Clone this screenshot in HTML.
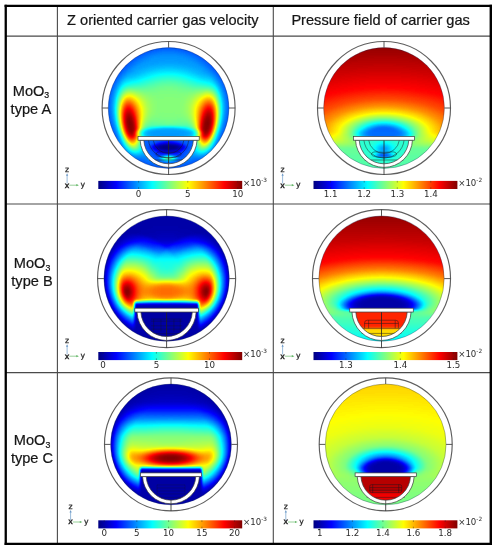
<!DOCTYPE html>
<html lang="en"><head><meta charset="utf-8"><title>Carrier gas simulation</title>
<style>html,body{margin:0;padding:0;background:#fff;width:496px;height:550px;overflow:hidden}svg{display:block}</style></head>
<body>
<svg width="496" height="550" viewBox="0 0 496 550">
<rect width="496" height="550" fill="#fff"/>
<defs>
<filter id="jet" x="-5%" y="-5%" width="110%" height="110%" color-interpolation-filters="sRGB"><feGaussianBlur stdDeviation="0.9"/><feComponentTransfer><feFuncR type="table" tableValues="0 0 0 0 .5 1 1 1 .5"/><feFuncG type="table" tableValues="0 0 .5 1 1 1 .5 0 0"/><feFuncB type="table" tableValues=".5 1 1 1 .5 0 0 0 0"/><feFuncA type="table" tableValues="1 1"/></feComponentTransfer></filter>
<linearGradient id="cb" x1="0" y1="0" x2="1" y2="0"><stop offset="0" stop-color="#000080"/><stop offset="0.125" stop-color="#0000ff"/><stop offset="0.25" stop-color="#0080ff"/><stop offset="0.375" stop-color="#00ffff"/><stop offset="0.5" stop-color="#80ff80"/><stop offset="0.625" stop-color="#ffff00"/><stop offset="0.75" stop-color="#ff8000"/><stop offset="0.875" stop-color="#ff0000"/><stop offset="1" stop-color="#800000"/></linearGradient>
<radialGradient id="b1" cx=".5" cy=".5" r=".5"><stop offset="0.00" stop-color="#818181" stop-opacity="1.000"/><stop offset="0.10" stop-color="#818181" stop-opacity="1.000"/><stop offset="0.20" stop-color="#818181" stop-opacity="0.993"/><stop offset="0.30" stop-color="#818181" stop-opacity="0.966"/><stop offset="0.40" stop-color="#818181" stop-opacity="0.897"/><stop offset="0.50" stop-color="#818181" stop-opacity="0.767"/><stop offset="0.60" stop-color="#818181" stop-opacity="0.576"/><stop offset="0.70" stop-color="#818181" stop-opacity="0.358"/><stop offset="0.80" stop-color="#818181" stop-opacity="0.169"/><stop offset="0.90" stop-color="#818181" stop-opacity="0.050"/><stop offset="1.00" stop-color="#818181" stop-opacity="0.000"/></radialGradient>
<radialGradient id="b2" cx=".5" cy=".5" r=".5"><stop offset="0.00" stop-color="#616161" stop-opacity="0.800"/><stop offset="0.10" stop-color="#616161" stop-opacity="0.764"/><stop offset="0.20" stop-color="#616161" stop-opacity="0.667"/><stop offset="0.30" stop-color="#616161" stop-opacity="0.531"/><stop offset="0.40" stop-color="#616161" stop-opacity="0.385"/><stop offset="0.50" stop-color="#616161" stop-opacity="0.254"/><stop offset="0.60" stop-color="#616161" stop-opacity="0.151"/><stop offset="0.70" stop-color="#616161" stop-opacity="0.080"/><stop offset="0.80" stop-color="#616161" stop-opacity="0.036"/><stop offset="0.90" stop-color="#616161" stop-opacity="0.012"/><stop offset="1.00" stop-color="#616161" stop-opacity="0.000"/></radialGradient>
<radialGradient id="b3" cx=".5" cy=".5" r=".5"><stop offset="0.00" stop-color="#a8a8a8" stop-opacity="0.800"/><stop offset="0.10" stop-color="#a8a8a8" stop-opacity="0.764"/><stop offset="0.20" stop-color="#a8a8a8" stop-opacity="0.667"/><stop offset="0.30" stop-color="#a8a8a8" stop-opacity="0.531"/><stop offset="0.40" stop-color="#a8a8a8" stop-opacity="0.385"/><stop offset="0.50" stop-color="#a8a8a8" stop-opacity="0.254"/><stop offset="0.60" stop-color="#a8a8a8" stop-opacity="0.151"/><stop offset="0.70" stop-color="#a8a8a8" stop-opacity="0.080"/><stop offset="0.80" stop-color="#a8a8a8" stop-opacity="0.036"/><stop offset="0.90" stop-color="#a8a8a8" stop-opacity="0.012"/><stop offset="1.00" stop-color="#a8a8a8" stop-opacity="0.000"/></radialGradient>
<radialGradient id="b4" cx=".5" cy=".5" r=".5"><stop offset="0.00" stop-color="#cccccc" stop-opacity="1.000"/><stop offset="0.10" stop-color="#cccccc" stop-opacity="0.956"/><stop offset="0.20" stop-color="#cccccc" stop-opacity="0.833"/><stop offset="0.30" stop-color="#cccccc" stop-opacity="0.663"/><stop offset="0.40" stop-color="#cccccc" stop-opacity="0.481"/><stop offset="0.50" stop-color="#cccccc" stop-opacity="0.317"/><stop offset="0.60" stop-color="#cccccc" stop-opacity="0.189"/><stop offset="0.70" stop-color="#cccccc" stop-opacity="0.100"/><stop offset="0.80" stop-color="#cccccc" stop-opacity="0.046"/><stop offset="0.90" stop-color="#cccccc" stop-opacity="0.015"/><stop offset="1.00" stop-color="#cccccc" stop-opacity="0.000"/></radialGradient>
<radialGradient id="b5" cx=".5" cy=".5" r=".5"><stop offset="0.00" stop-color="#ffffff" stop-opacity="1.000"/><stop offset="0.10" stop-color="#ffffff" stop-opacity="0.956"/><stop offset="0.20" stop-color="#ffffff" stop-opacity="0.833"/><stop offset="0.30" stop-color="#ffffff" stop-opacity="0.663"/><stop offset="0.40" stop-color="#ffffff" stop-opacity="0.481"/><stop offset="0.50" stop-color="#ffffff" stop-opacity="0.317"/><stop offset="0.60" stop-color="#ffffff" stop-opacity="0.189"/><stop offset="0.70" stop-color="#ffffff" stop-opacity="0.100"/><stop offset="0.80" stop-color="#ffffff" stop-opacity="0.046"/><stop offset="0.90" stop-color="#ffffff" stop-opacity="0.015"/><stop offset="1.00" stop-color="#ffffff" stop-opacity="0.000"/></radialGradient>
<radialGradient id="b6" cx=".5" cy=".5" r=".5"><stop offset="0.00" stop-color="#ffffff" stop-opacity="0.800"/><stop offset="0.10" stop-color="#ffffff" stop-opacity="0.764"/><stop offset="0.20" stop-color="#ffffff" stop-opacity="0.667"/><stop offset="0.30" stop-color="#ffffff" stop-opacity="0.531"/><stop offset="0.40" stop-color="#ffffff" stop-opacity="0.385"/><stop offset="0.50" stop-color="#ffffff" stop-opacity="0.254"/><stop offset="0.60" stop-color="#ffffff" stop-opacity="0.151"/><stop offset="0.70" stop-color="#ffffff" stop-opacity="0.080"/><stop offset="0.80" stop-color="#ffffff" stop-opacity="0.036"/><stop offset="0.90" stop-color="#ffffff" stop-opacity="0.012"/><stop offset="1.00" stop-color="#ffffff" stop-opacity="0.000"/></radialGradient>
<radialGradient id="b7" cx=".5" cy=".5" r=".5"><stop offset="0.00" stop-color="#454545" stop-opacity="0.950"/><stop offset="0.10" stop-color="#454545" stop-opacity="0.950"/><stop offset="0.20" stop-color="#454545" stop-opacity="0.950"/><stop offset="0.30" stop-color="#454545" stop-opacity="0.947"/><stop offset="0.40" stop-color="#454545" stop-opacity="0.935"/><stop offset="0.50" stop-color="#454545" stop-opacity="0.894"/><stop offset="0.60" stop-color="#454545" stop-opacity="0.792"/><stop offset="0.70" stop-color="#454545" stop-opacity="0.599"/><stop offset="0.80" stop-color="#454545" stop-opacity="0.336"/><stop offset="0.90" stop-color="#454545" stop-opacity="0.107"/><stop offset="1.00" stop-color="#454545" stop-opacity="0.000"/></radialGradient>
<radialGradient id="e8" cx="168.60" cy="108.00" r="60.40" gradientUnits="userSpaceOnUse"><stop offset="0.840" stop-color="#1f1f1f" stop-opacity="0"/><stop offset="0.860" stop-color="#1f1f1f" stop-opacity="0.023"/><stop offset="0.880" stop-color="#1f1f1f" stop-opacity="0.060"/><stop offset="0.900" stop-color="#1f1f1f" stop-opacity="0.106"/><stop offset="0.920" stop-color="#1f1f1f" stop-opacity="0.159"/><stop offset="0.940" stop-color="#1f1f1f" stop-opacity="0.218"/><stop offset="0.960" stop-color="#1f1f1f" stop-opacity="0.281"/><stop offset="0.980" stop-color="#1f1f1f" stop-opacity="0.348"/><stop offset="1.000" stop-color="#1f1f1f" stop-opacity="0.420"/></radialGradient>
<radialGradient id="b9" cx=".5" cy=".5" r=".5"><stop offset="0.00" stop-color="#1f1f1f" stop-opacity="1.000"/><stop offset="0.10" stop-color="#1f1f1f" stop-opacity="1.000"/><stop offset="0.20" stop-color="#1f1f1f" stop-opacity="0.993"/><stop offset="0.30" stop-color="#1f1f1f" stop-opacity="0.966"/><stop offset="0.40" stop-color="#1f1f1f" stop-opacity="0.897"/><stop offset="0.50" stop-color="#1f1f1f" stop-opacity="0.767"/><stop offset="0.60" stop-color="#1f1f1f" stop-opacity="0.576"/><stop offset="0.70" stop-color="#1f1f1f" stop-opacity="0.358"/><stop offset="0.80" stop-color="#1f1f1f" stop-opacity="0.169"/><stop offset="0.90" stop-color="#1f1f1f" stop-opacity="0.050"/><stop offset="1.00" stop-color="#1f1f1f" stop-opacity="0.000"/></radialGradient>
<radialGradient id="b10" cx=".5" cy=".5" r=".5"><stop offset="0.00" stop-color="#000000" stop-opacity="1.000"/><stop offset="0.10" stop-color="#000000" stop-opacity="1.000"/><stop offset="0.20" stop-color="#000000" stop-opacity="0.993"/><stop offset="0.30" stop-color="#000000" stop-opacity="0.966"/><stop offset="0.40" stop-color="#000000" stop-opacity="0.897"/><stop offset="0.50" stop-color="#000000" stop-opacity="0.767"/><stop offset="0.60" stop-color="#000000" stop-opacity="0.576"/><stop offset="0.70" stop-color="#000000" stop-opacity="0.358"/><stop offset="0.80" stop-color="#000000" stop-opacity="0.169"/><stop offset="0.90" stop-color="#000000" stop-opacity="0.050"/><stop offset="1.00" stop-color="#000000" stop-opacity="0.000"/></radialGradient>
<radialGradient id="b11" cx=".5" cy=".5" r=".5"><stop offset="0.00" stop-color="#808080" stop-opacity="1.000"/><stop offset="0.10" stop-color="#808080" stop-opacity="0.995"/><stop offset="0.20" stop-color="#808080" stop-opacity="0.963"/><stop offset="0.30" stop-color="#808080" stop-opacity="0.881"/><stop offset="0.40" stop-color="#808080" stop-opacity="0.741"/><stop offset="0.50" stop-color="#808080" stop-opacity="0.556"/><stop offset="0.60" stop-color="#808080" stop-opacity="0.362"/><stop offset="0.70" stop-color="#808080" stop-opacity="0.197"/><stop offset="0.80" stop-color="#808080" stop-opacity="0.085"/><stop offset="0.90" stop-color="#808080" stop-opacity="0.025"/><stop offset="1.00" stop-color="#808080" stop-opacity="0.000"/></radialGradient>
<clipPath id="c12"><circle cx="168.6" cy="108.0" r="60.40"/></clipPath>
<clipPath id="c13"><path d="M143.33 139.20V140.20A25.30 25.30 0 0 0 193.87 140.20V139.20Z"/></clipPath>
<radialGradient id="r14" cx="0" cy="0" r="95.00" gradientUnits="userSpaceOnUse" gradientTransform="translate(384.00 132.50) scale(2.35 1)"><stop offset="0.0000" stop-color="#333333"/><stop offset="0.0526" stop-color="#383838"/><stop offset="0.1053" stop-color="#616161"/><stop offset="0.1474" stop-color="#808080"/><stop offset="0.2053" stop-color="#a1a1a1"/><stop offset="0.2737" stop-color="#bababa"/><stop offset="0.3474" stop-color="#cccccc"/><stop offset="0.4632" stop-color="#dedede"/><stop offset="0.6421" stop-color="#ebebeb"/><stop offset="0.8947" stop-color="#fafafa"/><stop offset="1.0000" stop-color="#ffffff"/></radialGradient>
<linearGradient id="o15" x1="0" y1="132.00" x2="0" y2="170.00" gradientUnits="userSpaceOnUse"><stop offset="0" stop-color="#808080" stop-opacity="0"/><stop offset="0.211" stop-color="#808080" stop-opacity=".5"/><stop offset="0.421" stop-color="#7a7a7a" stop-opacity="1"/><stop offset="1" stop-color="#737373" stop-opacity="1"/></linearGradient>
<radialGradient id="b16" cx=".5" cy=".5" r=".5"><stop offset="0.00" stop-color="#3b3b3b" stop-opacity="1.000"/><stop offset="0.10" stop-color="#3b3b3b" stop-opacity="1.000"/><stop offset="0.20" stop-color="#3b3b3b" stop-opacity="0.993"/><stop offset="0.30" stop-color="#3b3b3b" stop-opacity="0.966"/><stop offset="0.40" stop-color="#3b3b3b" stop-opacity="0.897"/><stop offset="0.50" stop-color="#3b3b3b" stop-opacity="0.767"/><stop offset="0.60" stop-color="#3b3b3b" stop-opacity="0.576"/><stop offset="0.70" stop-color="#3b3b3b" stop-opacity="0.358"/><stop offset="0.80" stop-color="#3b3b3b" stop-opacity="0.169"/><stop offset="0.90" stop-color="#3b3b3b" stop-opacity="0.050"/><stop offset="1.00" stop-color="#3b3b3b" stop-opacity="0.000"/></radialGradient>
<radialGradient id="b17" cx=".5" cy=".5" r=".5"><stop offset="0.00" stop-color="#454545" stop-opacity="1.000"/><stop offset="0.10" stop-color="#454545" stop-opacity="0.956"/><stop offset="0.20" stop-color="#454545" stop-opacity="0.833"/><stop offset="0.30" stop-color="#454545" stop-opacity="0.663"/><stop offset="0.40" stop-color="#454545" stop-opacity="0.481"/><stop offset="0.50" stop-color="#454545" stop-opacity="0.317"/><stop offset="0.60" stop-color="#454545" stop-opacity="0.189"/><stop offset="0.70" stop-color="#454545" stop-opacity="0.100"/><stop offset="0.80" stop-color="#454545" stop-opacity="0.046"/><stop offset="0.90" stop-color="#454545" stop-opacity="0.015"/><stop offset="1.00" stop-color="#454545" stop-opacity="0.000"/></radialGradient>
<radialGradient id="b18" cx=".5" cy=".5" r=".5"><stop offset="0.00" stop-color="#2e2e2e" stop-opacity="1.000"/><stop offset="0.10" stop-color="#2e2e2e" stop-opacity="0.995"/><stop offset="0.20" stop-color="#2e2e2e" stop-opacity="0.963"/><stop offset="0.30" stop-color="#2e2e2e" stop-opacity="0.881"/><stop offset="0.40" stop-color="#2e2e2e" stop-opacity="0.741"/><stop offset="0.50" stop-color="#2e2e2e" stop-opacity="0.556"/><stop offset="0.60" stop-color="#2e2e2e" stop-opacity="0.362"/><stop offset="0.70" stop-color="#2e2e2e" stop-opacity="0.197"/><stop offset="0.80" stop-color="#2e2e2e" stop-opacity="0.085"/><stop offset="0.90" stop-color="#2e2e2e" stop-opacity="0.025"/><stop offset="1.00" stop-color="#2e2e2e" stop-opacity="0.000"/></radialGradient>
<clipPath id="c19"><circle cx="384.0" cy="108.0" r="60.40"/></clipPath>
<clipPath id="c20"><path d="M358.73 139.20V140.20A25.30 25.30 0 0 0 409.27 140.20V139.20Z"/></clipPath>
<radialGradient id="b21" cx=".5" cy=".5" r=".5"><stop offset="0.00" stop-color="#2b2b2b" stop-opacity="0.900"/><stop offset="0.10" stop-color="#2b2b2b" stop-opacity="0.860"/><stop offset="0.20" stop-color="#2b2b2b" stop-opacity="0.750"/><stop offset="0.30" stop-color="#2b2b2b" stop-opacity="0.597"/><stop offset="0.40" stop-color="#2b2b2b" stop-opacity="0.433"/><stop offset="0.50" stop-color="#2b2b2b" stop-opacity="0.285"/><stop offset="0.60" stop-color="#2b2b2b" stop-opacity="0.170"/><stop offset="0.70" stop-color="#2b2b2b" stop-opacity="0.090"/><stop offset="0.80" stop-color="#2b2b2b" stop-opacity="0.041"/><stop offset="0.90" stop-color="#2b2b2b" stop-opacity="0.014"/><stop offset="1.00" stop-color="#2b2b2b" stop-opacity="0.000"/></radialGradient>
<radialGradient id="p22" cx=".5" cy=".5" r=".5" fx="0.5000" fy="0.5472"><stop offset="0.000" stop-color="#c9c9c9" stop-opacity="1.000"/><stop offset="0.138" stop-color="#c9c9c9" stop-opacity="0.966"/><stop offset="0.241" stop-color="#c9c9c9" stop-opacity="0.893"/><stop offset="0.362" stop-color="#c9c9c9" stop-opacity="0.772"/><stop offset="0.500" stop-color="#c9c9c9" stop-opacity="0.611"/><stop offset="0.638" stop-color="#c9c9c9" stop-opacity="0.450"/><stop offset="0.741" stop-color="#c9c9c9" stop-opacity="0.315"/><stop offset="0.845" stop-color="#c9c9c9" stop-opacity="0.154"/><stop offset="1.000" stop-color="#c9c9c9" stop-opacity="0.020"/></radialGradient>
<radialGradient id="p23" cx=".5" cy=".5" r=".5" fx="0.5000" fy="0.5472"><stop offset="0.000" stop-color="#c9c9c9" stop-opacity="1.000"/><stop offset="0.138" stop-color="#c9c9c9" stop-opacity="0.966"/><stop offset="0.241" stop-color="#c9c9c9" stop-opacity="0.893"/><stop offset="0.362" stop-color="#c9c9c9" stop-opacity="0.772"/><stop offset="0.500" stop-color="#c9c9c9" stop-opacity="0.611"/><stop offset="0.638" stop-color="#c9c9c9" stop-opacity="0.450"/><stop offset="0.741" stop-color="#c9c9c9" stop-opacity="0.315"/><stop offset="0.845" stop-color="#c9c9c9" stop-opacity="0.154"/><stop offset="1.000" stop-color="#c9c9c9" stop-opacity="0.020"/></radialGradient>
<radialGradient id="b24" cx=".5" cy=".5" r=".5"><stop offset="0.00" stop-color="#666666" stop-opacity="0.800"/><stop offset="0.10" stop-color="#666666" stop-opacity="0.764"/><stop offset="0.20" stop-color="#666666" stop-opacity="0.667"/><stop offset="0.30" stop-color="#666666" stop-opacity="0.531"/><stop offset="0.40" stop-color="#666666" stop-opacity="0.385"/><stop offset="0.50" stop-color="#666666" stop-opacity="0.254"/><stop offset="0.60" stop-color="#666666" stop-opacity="0.151"/><stop offset="0.70" stop-color="#666666" stop-opacity="0.080"/><stop offset="0.80" stop-color="#666666" stop-opacity="0.036"/><stop offset="0.90" stop-color="#666666" stop-opacity="0.012"/><stop offset="1.00" stop-color="#666666" stop-opacity="0.000"/></radialGradient>
<radialGradient id="b25" cx=".5" cy=".5" r=".5"><stop offset="0.00" stop-color="#c4c4c4" stop-opacity="1.000"/><stop offset="0.10" stop-color="#c4c4c4" stop-opacity="1.000"/><stop offset="0.20" stop-color="#c4c4c4" stop-opacity="0.993"/><stop offset="0.30" stop-color="#c4c4c4" stop-opacity="0.966"/><stop offset="0.40" stop-color="#c4c4c4" stop-opacity="0.897"/><stop offset="0.50" stop-color="#c4c4c4" stop-opacity="0.767"/><stop offset="0.60" stop-color="#c4c4c4" stop-opacity="0.576"/><stop offset="0.70" stop-color="#c4c4c4" stop-opacity="0.358"/><stop offset="0.80" stop-color="#c4c4c4" stop-opacity="0.169"/><stop offset="0.90" stop-color="#c4c4c4" stop-opacity="0.050"/><stop offset="1.00" stop-color="#c4c4c4" stop-opacity="0.000"/></radialGradient>
<linearGradient id="v26" x1="0" y1="299.60" x2="0" y2="348.60" gradientUnits="userSpaceOnUse"><stop offset="0" stop-color="#0d0d0d" stop-opacity="0"/><stop offset="0.051" stop-color="#0d0d0d" stop-opacity="0.500"/><stop offset="0.102" stop-color="#0d0d0d" stop-opacity="1.000"/><stop offset="1" stop-color="#0d0d0d" stop-opacity="1.000"/></linearGradient>
<radialGradient id="e27" cx="166.60" cy="278.60" r="62.70" gradientUnits="userSpaceOnUse"><stop offset="0.700" stop-color="#0a0a0a" stop-opacity="0"/><stop offset="0.737" stop-color="#0a0a0a" stop-opacity="0.067"/><stop offset="0.775" stop-color="#0a0a0a" stop-opacity="0.165"/><stop offset="0.812" stop-color="#0a0a0a" stop-opacity="0.279"/><stop offset="0.850" stop-color="#0a0a0a" stop-opacity="0.406"/><stop offset="0.887" stop-color="#0a0a0a" stop-opacity="0.543"/><stop offset="0.925" stop-color="#0a0a0a" stop-opacity="0.688"/><stop offset="0.963" stop-color="#0a0a0a" stop-opacity="0.841"/><stop offset="1.000" stop-color="#0a0a0a" stop-opacity="1.000"/></radialGradient>
<clipPath id="c28"><circle cx="166.6" cy="278.6" r="62.70"/></clipPath>
<clipPath id="c29"><path d="M140.39 311.02V312.02A26.24 26.24 0 0 0 192.81 312.02V311.02Z"/></clipPath>
<radialGradient id="r30" cx="0" cy="0" r="97.00" gradientUnits="userSpaceOnUse" gradientTransform="translate(381.50 303.00) scale(2.8 1)"><stop offset="0.0000" stop-color="#0d0d0d"/><stop offset="0.0515" stop-color="#141414"/><stop offset="0.0825" stop-color="#333333"/><stop offset="0.1134" stop-color="#4c4c4c"/><stop offset="0.1464" stop-color="#616161"/><stop offset="0.1990" stop-color="#808080"/><stop offset="0.2660" stop-color="#a1a1a1"/><stop offset="0.3454" stop-color="#bfbfbf"/><stop offset="0.4639" stop-color="#dedede"/><stop offset="0.6495" stop-color="#ededed"/><stop offset="0.8969" stop-color="#fafafa"/><stop offset="1.0000" stop-color="#ffffff"/></radialGradient>
<linearGradient id="o31" x1="0" y1="304.60" x2="0" y2="342.60" gradientUnits="userSpaceOnUse"><stop offset="0" stop-color="#808080" stop-opacity="0"/><stop offset="0.158" stop-color="#808080" stop-opacity=".5"/><stop offset="0.316" stop-color="#757575" stop-opacity="1"/><stop offset="1" stop-color="#5e5e5e" stop-opacity="1"/></linearGradient>
<radialGradient id="b32" cx=".5" cy=".5" r=".5"><stop offset="0.00" stop-color="#0a0a0a" stop-opacity="1.000"/><stop offset="0.10" stop-color="#0a0a0a" stop-opacity="1.000"/><stop offset="0.20" stop-color="#0a0a0a" stop-opacity="1.000"/><stop offset="0.30" stop-color="#0a0a0a" stop-opacity="0.997"/><stop offset="0.40" stop-color="#0a0a0a" stop-opacity="0.984"/><stop offset="0.50" stop-color="#0a0a0a" stop-opacity="0.941"/><stop offset="0.60" stop-color="#0a0a0a" stop-opacity="0.833"/><stop offset="0.70" stop-color="#0a0a0a" stop-opacity="0.630"/><stop offset="0.80" stop-color="#0a0a0a" stop-opacity="0.354"/><stop offset="0.90" stop-color="#0a0a0a" stop-opacity="0.112"/><stop offset="1.00" stop-color="#0a0a0a" stop-opacity="0.000"/></radialGradient>
<clipPath id="k33"><rect x="291.5" y="188.6" width="180" height="121.50"/></clipPath>
<clipPath id="c34"><circle cx="381.5" cy="278.6" r="62.70"/></clipPath>
<clipPath id="c35"><path d="M355.29 311.02V312.02A26.24 26.24 0 0 0 407.71 312.02V311.02Z"/></clipPath>
<linearGradient id="l36" x1="0" y1="382.40" x2="0" y2="506.40" gradientUnits="userSpaceOnUse"><stop offset="0.0000" stop-color="#0a0a0a"/><stop offset="0.1613" stop-color="#121212"/><stop offset="0.2258" stop-color="#262626"/><stop offset="0.2903" stop-color="#404040"/><stop offset="0.3548" stop-color="#616161"/><stop offset="0.4355" stop-color="#808080"/><stop offset="0.5081" stop-color="#8f8f8f"/><stop offset="0.5806" stop-color="#a1a1a1"/><stop offset="0.6371" stop-color="#a3a3a3"/><stop offset="0.6935" stop-color="#969696"/><stop offset="0.7500" stop-color="#858585"/><stop offset="0.7984" stop-color="#6b6b6b"/><stop offset="0.8548" stop-color="#404040"/><stop offset="0.9113" stop-color="#1a1a1a"/><stop offset="1.0000" stop-color="#0f0f0f"/></linearGradient>
<radialGradient id="b37" cx=".5" cy=".5" r=".5"><stop offset="0.00" stop-color="#b0b0b0" stop-opacity="0.900"/><stop offset="0.10" stop-color="#b0b0b0" stop-opacity="0.860"/><stop offset="0.20" stop-color="#b0b0b0" stop-opacity="0.750"/><stop offset="0.30" stop-color="#b0b0b0" stop-opacity="0.597"/><stop offset="0.40" stop-color="#b0b0b0" stop-opacity="0.433"/><stop offset="0.50" stop-color="#b0b0b0" stop-opacity="0.285"/><stop offset="0.60" stop-color="#b0b0b0" stop-opacity="0.170"/><stop offset="0.70" stop-color="#b0b0b0" stop-opacity="0.090"/><stop offset="0.80" stop-color="#b0b0b0" stop-opacity="0.041"/><stop offset="0.90" stop-color="#b0b0b0" stop-opacity="0.014"/><stop offset="1.00" stop-color="#b0b0b0" stop-opacity="0.000"/></radialGradient>
<radialGradient id="b38" cx=".5" cy=".5" r=".5"><stop offset="0.00" stop-color="#808080" stop-opacity="0.450"/><stop offset="0.10" stop-color="#808080" stop-opacity="0.430"/><stop offset="0.20" stop-color="#808080" stop-opacity="0.375"/><stop offset="0.30" stop-color="#808080" stop-opacity="0.298"/><stop offset="0.40" stop-color="#808080" stop-opacity="0.216"/><stop offset="0.50" stop-color="#808080" stop-opacity="0.143"/><stop offset="0.60" stop-color="#808080" stop-opacity="0.085"/><stop offset="0.70" stop-color="#808080" stop-opacity="0.045"/><stop offset="0.80" stop-color="#808080" stop-opacity="0.020"/><stop offset="0.90" stop-color="#808080" stop-opacity="0.007"/><stop offset="1.00" stop-color="#808080" stop-opacity="0.000"/></radialGradient>
<radialGradient id="b39" cx=".5" cy=".5" r=".5"><stop offset="0.00" stop-color="#ffffff" stop-opacity="1.000"/><stop offset="0.10" stop-color="#ffffff" stop-opacity="0.995"/><stop offset="0.20" stop-color="#ffffff" stop-opacity="0.963"/><stop offset="0.30" stop-color="#ffffff" stop-opacity="0.881"/><stop offset="0.40" stop-color="#ffffff" stop-opacity="0.741"/><stop offset="0.50" stop-color="#ffffff" stop-opacity="0.556"/><stop offset="0.60" stop-color="#ffffff" stop-opacity="0.362"/><stop offset="0.70" stop-color="#ffffff" stop-opacity="0.197"/><stop offset="0.80" stop-color="#ffffff" stop-opacity="0.085"/><stop offset="0.90" stop-color="#ffffff" stop-opacity="0.025"/><stop offset="1.00" stop-color="#ffffff" stop-opacity="0.000"/></radialGradient>
<linearGradient id="v40" x1="0" y1="465.90" x2="0" y2="514.40" gradientUnits="userSpaceOnUse"><stop offset="0" stop-color="#0d0d0d" stop-opacity="0"/><stop offset="0.041" stop-color="#0d0d0d" stop-opacity="0.500"/><stop offset="0.082" stop-color="#0d0d0d" stop-opacity="1.000"/><stop offset="1" stop-color="#0d0d0d" stop-opacity="1.000"/></linearGradient>
<radialGradient id="e41" cx="171.00" cy="444.40" r="60.40" gradientUnits="userSpaceOnUse"><stop offset="0.660" stop-color="#0a0a0a" stop-opacity="0"/><stop offset="0.703" stop-color="#0a0a0a" stop-opacity="0.036"/><stop offset="0.745" stop-color="#0a0a0a" stop-opacity="0.109"/><stop offset="0.788" stop-color="#0a0a0a" stop-opacity="0.208"/><stop offset="0.830" stop-color="#0a0a0a" stop-opacity="0.330"/><stop offset="0.873" stop-color="#0a0a0a" stop-opacity="0.471"/><stop offset="0.915" stop-color="#0a0a0a" stop-opacity="0.631"/><stop offset="0.958" stop-color="#0a0a0a" stop-opacity="0.808"/><stop offset="1.000" stop-color="#0a0a0a" stop-opacity="1.000"/></radialGradient>
<clipPath id="c42"><circle cx="171.0" cy="444.4" r="60.40"/></clipPath>
<clipPath id="c43"><path d="M145.73 475.60V476.60A25.30 25.30 0 0 0 196.27 476.60V475.60Z"/></clipPath>
<radialGradient id="r44" cx="0" cy="0" r="95.00" gradientUnits="userSpaceOnUse" gradientTransform="translate(385.70 466.00) scale(2.1 1)"><stop offset="0.0000" stop-color="#0a0a0a"/><stop offset="0.0421" stop-color="#0f0f0f"/><stop offset="0.0695" stop-color="#262626"/><stop offset="0.1105" stop-color="#474747"/><stop offset="0.1505" stop-color="#616161"/><stop offset="0.2053" stop-color="#808080"/><stop offset="0.3000" stop-color="#919191"/><stop offset="0.4211" stop-color="#9b9b9b"/><stop offset="0.6105" stop-color="#a2a2a2"/><stop offset="0.8632" stop-color="#ababab"/><stop offset="1.0000" stop-color="#adadad"/></radialGradient>
<linearGradient id="o45" x1="0" y1="468.40" x2="0" y2="506.40" gradientUnits="userSpaceOnUse"><stop offset="0" stop-color="#878787" stop-opacity="0"/><stop offset="0.158" stop-color="#878787" stop-opacity=".5"/><stop offset="0.316" stop-color="#848484" stop-opacity="1"/><stop offset="1" stop-color="#7d7d7d" stop-opacity="1"/></linearGradient>
<clipPath id="k46"><rect x="295.7" y="354.4" width="180" height="120.50"/></clipPath>
<clipPath id="c47"><circle cx="385.7" cy="444.4" r="60.40"/></clipPath>
<clipPath id="c48"><path d="M360.43 475.60V476.60A25.30 25.30 0 0 0 410.97 476.60V475.60Z"/></clipPath>
</defs>
<g fill="none" stroke="#4a4a4a" stroke-width="1.1"><path d="M57.4 6V543M273.3 6V543"/><path d="M6 36.1H490M6 204H490M6 372.7H490" stroke-width="1.2"/></g>
<path d="M5.75 4.85V544.9" stroke="#000" stroke-width="2.3" fill="none"/><path d="M4.6 5.9H492" stroke="#000" stroke-width="2.1" fill="none"/><path d="M490.8 4.85V544.9" stroke="#000" stroke-width="2.4" fill="none"/><path d="M4.6 543.8H492" stroke="#000" stroke-width="2.2" fill="none"/>
<text x="67.1" y="24.9" font-family="Liberation Sans, Arial, sans-serif" font-size="14.6" fill="#161616" stroke="#161616" stroke-width=".22">Z oriented carrier gas velocity</text>
<text x="291.4" y="24.9" font-family="Liberation Sans, Arial, sans-serif" font-size="14.6" fill="#161616" stroke="#161616" stroke-width=".22">Pressure field of carrier gas</text>
<text x="31.0" y="95.7" text-anchor="middle" font-family="Liberation Sans, Arial, sans-serif" font-size="14.6" fill="#161616" stroke="#161616" stroke-width=".22">MoO<tspan font-size="8.8" dy="2.4">3</tspan></text>
<text x="30.9" y="113.6" text-anchor="middle" font-family="Liberation Sans, Arial, sans-serif" font-size="14.6" fill="#161616" stroke="#161616" stroke-width=".22">type A</text>
<text x="32.1" y="268.2" text-anchor="middle" font-family="Liberation Sans, Arial, sans-serif" font-size="14.6" fill="#161616" stroke="#161616" stroke-width=".22">MoO<tspan font-size="8.8" dy="2.4">3</tspan></text>
<text x="32.0" y="285.7" text-anchor="middle" font-family="Liberation Sans, Arial, sans-serif" font-size="14.6" fill="#161616" stroke="#161616" stroke-width=".22">type B</text>
<text x="32.1" y="445.2" text-anchor="middle" font-family="Liberation Sans, Arial, sans-serif" font-size="14.6" fill="#161616" stroke="#161616" stroke-width=".22">MoO<tspan font-size="8.8" dy="2.4">3</tspan></text>
<text x="32.0" y="462.6" text-anchor="middle" font-family="Liberation Sans, Arial, sans-serif" font-size="14.6" fill="#161616" stroke="#161616" stroke-width=".22">type C</text>
<g clip-path="url(#c12)"><g filter="url(#jet)"><rect x="96.2" y="35.6" width="144.8" height="144.8" fill="#454545"/><ellipse cx="168.60" cy="105.00" rx="66.00" ry="47.00" fill="url(#b1)"/><ellipse cx="132.60" cy="146.00" rx="22.00" ry="18.00" fill="url(#b2)"/><ellipse cx="204.60" cy="146.00" rx="22.00" ry="18.00" fill="url(#b2)"/><ellipse cx="136.10" cy="110.00" rx="25.00" ry="37.00" fill="url(#b3)"/><ellipse cx="130.10" cy="119.00" rx="20.00" ry="49.00" transform="rotate(-7 130.10 119.00)" fill="url(#b4)"/><ellipse cx="129.60" cy="123.00" rx="16.00" ry="40.00" transform="rotate(-8 129.60 123.00)" fill="url(#b5)"/><ellipse cx="131.60" cy="130.00" rx="10.00" ry="18.00" transform="rotate(-8 131.60 130.00)" fill="url(#b6)"/><ellipse cx="201.10" cy="110.00" rx="25.00" ry="37.00" fill="url(#b3)"/><ellipse cx="207.10" cy="119.00" rx="20.00" ry="49.00" transform="rotate(7 207.10 119.00)" fill="url(#b4)"/><ellipse cx="207.60" cy="123.00" rx="16.00" ry="40.00" transform="rotate(8 207.60 123.00)" fill="url(#b5)"/><ellipse cx="205.60" cy="130.00" rx="10.00" ry="18.00" transform="rotate(8 205.60 130.00)" fill="url(#b6)"/><ellipse cx="168.60" cy="133.00" rx="36.00" ry="8.00" fill="url(#b7)"/><circle cx="168.60" cy="108.00" r="66.40" fill="url(#e8)"/></g></g><circle cx="168.6" cy="108.0" r="60.40" fill="none" stroke="#1a2a50" stroke-opacity=".55" stroke-width=".6"/><circle cx="168.6" cy="108.0" r="66.50" fill="none" stroke="#5e5e5e" stroke-width="1.15"/><path d="M102.10 108.0H108.20M229.00 108.0H235.10M168.6 41.50V47.60" stroke="#444" stroke-width=".9" fill="none"/><g clip-path="url(#c13)"><g filter="url(#jet)"><rect x="132.1" y="130.2" width="73.0" height="48.5" fill="#383838"/><ellipse cx="168.60" cy="149.00" rx="21.00" ry="13.00" fill="url(#b9)"/><ellipse cx="168.60" cy="147.30" rx="23.00" ry="5.60" fill="url(#b10)"/><ellipse cx="168.60" cy="158.20" rx="13.00" ry="4.40" fill="url(#b11)"/></g></g><g stroke="#15151f" stroke-width=".55" fill="none" stroke-opacity="0.85"><path d="M148.52 140.20A20.20 20.20 0 0 0 188.68 140.20M153.26 140.20A15.50 15.50 0 0 0 183.94 140.20M156.10 154.30C156.10 150.50 163.60 152.30 168.60 152.30S181.10 150.50 181.10 154.30C181.10 158.50 156.10 158.50 156.10 154.30ZM149.10 160.00H188.10"/></g><path d="M168.6 140.20V174.50" stroke="#222" stroke-width=".8"/><path d="M140.13 140.20A28.50 28.50 0 0 0 197.07 140.20H193.37A24.80 24.80 0 0 1 143.83 140.20Z" fill="#fff" stroke="#3a3a3a" stroke-width=".7"/><path d="M168.6 163.80V167.50" stroke="#333" stroke-width=".7"/><rect x="138.00" y="136.50" width="61.20" height="3.70" fill="#fff" stroke="#3a3a3a" stroke-width=".7"/>
<g clip-path="url(#c19)"><g filter="url(#jet)"><rect x="311.6" y="35.6" width="144.8" height="144.8" fill="#808080"/><rect x="311.6" y="35.6" width="144.8" height="144.8" fill="url(#r14)"/><rect x="304.00" y="132.00" width="160.00" height="48.00" fill="url(#o15)"/><ellipse cx="384.00" cy="135.00" rx="36.00" ry="9.50" fill="url(#b16)"/></g></g><circle cx="384.0" cy="108.0" r="60.40" fill="none" stroke="#1a2a50" stroke-opacity=".55" stroke-width=".6"/><circle cx="384.0" cy="108.0" r="66.50" fill="none" stroke="#5e5e5e" stroke-width="1.15"/><path d="M317.50 108.0H323.60M444.40 108.0H450.50M384.0 41.50V47.60" stroke="#444" stroke-width=".9" fill="none"/><g clip-path="url(#c20)"><g filter="url(#jet)"><rect x="347.5" y="130.2" width="73.0" height="48.5" fill="#6b6b6b"/><ellipse cx="384.00" cy="149.00" rx="18.00" ry="12.00" fill="url(#b17)"/><ellipse cx="384.00" cy="155.50" rx="14.00" ry="3.60" fill="url(#b18)"/></g></g><g stroke="#15151f" stroke-width=".55" fill="none" stroke-opacity="0.85"><path d="M363.92 140.20A20.20 20.20 0 0 0 404.08 140.20M368.66 140.20A15.50 15.50 0 0 0 399.34 140.20M371.50 154.30C371.50 150.50 379.00 152.30 384.00 152.30S396.50 150.50 396.50 154.30C396.50 158.50 371.50 158.50 371.50 154.30ZM364.50 160.00H403.50"/></g><path d="M384.0 140.20V174.50" stroke="#222" stroke-width=".8"/><path d="M355.53 140.20A28.50 28.50 0 0 0 412.47 140.20H408.77A24.80 24.80 0 0 1 359.23 140.20Z" fill="#fff" stroke="#3a3a3a" stroke-width=".7"/><path d="M384.0 163.80V167.50" stroke="#333" stroke-width=".7"/><rect x="353.40" y="136.50" width="61.20" height="3.70" fill="#fff" stroke="#3a3a3a" stroke-width=".7"/>
<g clip-path="url(#c28)"><g filter="url(#jet)"><rect x="91.9" y="203.9" width="149.4" height="149.4" fill="#0b0b0b"/><ellipse cx="166.60" cy="256.60" rx="44.00" ry="30.00" fill="url(#b21)"/><ellipse cx="131.10" cy="286.80" rx="53.00" ry="53.00" fill="url(#p22)"/><ellipse cx="202.10" cy="286.80" rx="53.00" ry="53.00" fill="url(#p23)"/><ellipse cx="166.60" cy="264.60" rx="26.00" ry="24.00" fill="url(#b24)"/><ellipse cx="166.60" cy="291.60" rx="38.00" ry="15.00" fill="url(#b25)"/><ellipse cx="127.00" cy="291.80" rx="17.00" ry="25.00" fill="url(#b5)"/><ellipse cx="206.20" cy="291.80" rx="17.00" ry="25.00" fill="url(#b5)"/><rect x="134.42" y="299.60" width="64.36" height="49.00" rx="3" fill="url(#v26)"/><circle cx="166.60" cy="278.60" r="68.70" fill="url(#e27)"/></g></g><circle cx="166.6" cy="278.6" r="62.70" fill="none" stroke="#1a2a50" stroke-opacity=".55" stroke-width=".6"/><circle cx="166.6" cy="278.6" r="69.03" fill="none" stroke="#5e5e5e" stroke-width="1.15"/><path d="M97.57 278.6H103.90M229.30 278.6H235.63M166.6 209.57V215.90" stroke="#444" stroke-width=".9" fill="none"/><g clip-path="url(#c29)"><g filter="url(#jet)"><rect x="129.0" y="302.0" width="75.2" height="49.6" fill="#090909"/></g></g><g stroke="#15151f" stroke-width=".55" fill="none" stroke-opacity="0.6"><path d="M151.03 321.16H182.17M151.03 325.83H182.17M151.03 329.15H182.17M153.62 319.08V331.54M160.89 319.08V331.54M173.87 319.08V331.54M180.30 319.08V331.54M146.88 333.61H186.32M151.03 319.08H182.17"/></g><path d="M166.6 312.02V347.63" stroke="#222" stroke-width=".8"/><path d="M137.04 312.02A29.58 29.58 0 0 0 196.16 312.02H192.31A25.74 25.74 0 0 1 140.89 312.02Z" fill="#fff" stroke="#3a3a3a" stroke-width=".7"/><path d="M166.6 336.52V340.36" stroke="#333" stroke-width=".7"/><rect x="134.84" y="308.18" width="63.53" height="3.84" fill="#fff" stroke="#3a3a3a" stroke-width=".7"/>
<g clip-path="url(#c34)"><g filter="url(#jet)"><rect x="306.8" y="203.9" width="149.4" height="149.4" fill="#808080"/><rect x="306.8" y="203.9" width="149.4" height="149.4" fill="url(#r30)"/><rect x="301.50" y="304.60" width="160.00" height="48.00" fill="url(#o31)"/><g clip-path="url(#k33)"><ellipse cx="381.50" cy="306.10" rx="47.00" ry="15.00" fill="url(#b32)"/></g></g></g><circle cx="381.5" cy="278.6" r="62.70" fill="none" stroke="#1a2a50" stroke-opacity=".55" stroke-width=".6"/><circle cx="381.5" cy="278.6" r="69.03" fill="none" stroke="#5e5e5e" stroke-width="1.15"/><path d="M312.47 278.6H318.80M444.20 278.6H450.53M381.5 209.57V215.90" stroke="#444" stroke-width=".9" fill="none"/><g clip-path="url(#c35)"><g filter="url(#jet)"><rect x="343.9" y="302.0" width="75.2" height="49.6" fill="#d6d6d6"/><rect x="341.5" y="328.32" width="80" height="30" fill="#a8a8a8"/></g></g><g stroke="#15151f" stroke-width=".55" fill="none" stroke-opacity="0.85"><path d="M364.58 328.32V322.92Q364.58 320.22 367.28 320.22H395.72Q398.42 320.22 398.42 322.92V328.32M364.58 323.44H398.42M368.63 320.22V328.32M395.20 320.22V328.32M358.66 328.32H404.34M361.78 333.41H401.22"/></g><path d="M381.5 312.02V347.63" stroke="#222" stroke-width=".8"/><path d="M351.94 312.02A29.58 29.58 0 0 0 411.06 312.02H407.21A25.74 25.74 0 0 1 355.79 312.02Z" fill="#fff" stroke="#3a3a3a" stroke-width=".7"/><path d="M381.5 336.52V340.36" stroke="#333" stroke-width=".7"/><rect x="349.74" y="308.18" width="63.53" height="3.84" fill="#fff" stroke="#3a3a3a" stroke-width=".7"/>
<g clip-path="url(#c42)"><g filter="url(#jet)"><rect x="98.6" y="372.0" width="144.8" height="144.8" fill="#0f0f0f"/><rect x="98.6" y="372.0" width="144.8" height="144.8" fill="url(#l36)"/><ellipse cx="132.50" cy="456.90" rx="18.00" ry="14.00" fill="url(#b37)"/><ellipse cx="209.50" cy="456.90" rx="18.00" ry="14.00" fill="url(#b37)"/><ellipse cx="171.00" cy="438.40" rx="52.00" ry="24.00" fill="url(#b38)"/><ellipse cx="170.50" cy="458.10" rx="48.00" ry="13.00" fill="url(#b39)"/><rect x="140.00" y="465.90" width="62.00" height="48.50" rx="3" fill="url(#v40)"/><circle cx="171.00" cy="444.40" r="66.40" fill="url(#e41)"/></g></g><circle cx="171.0" cy="444.4" r="60.40" fill="none" stroke="#1a2a50" stroke-opacity=".55" stroke-width=".6"/><circle cx="171.0" cy="444.4" r="66.50" fill="none" stroke="#5e5e5e" stroke-width="1.15"/><path d="M104.50 444.4H110.60M231.40 444.4H237.50M171.0 377.90V384.00" stroke="#444" stroke-width=".9" fill="none"/><g clip-path="url(#c43)"><g filter="url(#jet)"><rect x="134.5" y="466.6" width="73.0" height="48.5" fill="#090909"/></g></g><g stroke="#15151f" stroke-width=".55" fill="none" stroke-opacity="0.45"><path d="M157.00 484.90H185.00M157.00 487.90H185.00M157.00 490.90H185.00M157.00 493.90H185.00M157.00 484.90V493.90M185.00 484.90V493.90M152.00 497.40H190.00"/></g><path d="M171.0 500.20V510.90" stroke="#222" stroke-width=".8"/><path d="M142.53 476.60A28.50 28.50 0 0 0 199.47 476.60H195.77A24.80 24.80 0 0 1 146.23 476.60Z" fill="#fff" stroke="#3a3a3a" stroke-width=".7"/><path d="M171.0 500.20V503.90" stroke="#333" stroke-width=".7"/><rect x="140.40" y="472.90" width="61.20" height="3.70" fill="#fff" stroke="#3a3a3a" stroke-width=".7"/>
<g clip-path="url(#c47)"><g filter="url(#jet)"><rect x="313.3" y="372.0" width="144.8" height="144.8" fill="#999999"/><rect x="313.3" y="372.0" width="144.8" height="144.8" fill="url(#r44)"/><rect x="305.70" y="468.40" width="160.00" height="48.00" fill="url(#o45)"/><g clip-path="url(#k46)"><ellipse cx="385.70" cy="469.40" rx="31.00" ry="12.50" fill="url(#b32)"/></g></g></g><circle cx="385.7" cy="444.4" r="60.40" fill="none" stroke="#1a2a50" stroke-opacity=".55" stroke-width=".6"/><circle cx="385.7" cy="444.4" r="66.50" fill="none" stroke="#5e5e5e" stroke-width="1.15"/><path d="M319.20 444.4H325.30M446.10 444.4H452.20M385.7 377.90V384.00" stroke="#444" stroke-width=".9" fill="none"/><g clip-path="url(#c48)"><g filter="url(#jet)"><rect x="349.2" y="466.6" width="73.0" height="48.5" fill="#f1f1f1"/><rect x="345.7" y="492.60" width="80" height="30" fill="#e2e2e2"/></g></g><g stroke="#15151f" stroke-width=".55" fill="none" stroke-opacity="0.8"><rect x="369.70" y="484.60" width="32.00" height="8.00" rx="1.80"/><path d="M369.70 487.60H401.70M369.70 490.20H401.70M366.70 497.40H404.70M372.70 484.60V492.60M398.70 484.60V492.60"/></g><path d="M385.7 500.20V510.90" stroke="#222" stroke-width=".8"/><path d="M357.23 476.60A28.50 28.50 0 0 0 414.17 476.60H410.47A24.80 24.80 0 0 1 360.93 476.60Z" fill="#fff" stroke="#3a3a3a" stroke-width=".7"/><path d="M385.7 500.20V503.90" stroke="#333" stroke-width=".7"/><rect x="355.10" y="472.90" width="61.20" height="3.70" fill="#fff" stroke="#3a3a3a" stroke-width=".7"/>
<rect x="98.3" y="180.89999999999998" width="143.9" height="8.1" fill="url(#cb)"/>
<path d="M138.6 180.89999999999998v1.6M138.6 188.89999999999998v-1.6M187.8 180.89999999999998v1.6M187.8 188.89999999999998v-1.6M237.8 180.89999999999998v1.6M237.8 188.89999999999998v-1.6" stroke="#222" stroke-width=".6" stroke-opacity=".7"/>
<text x="138.6" y="196.9" text-anchor="middle" font-size="8.7" font-family="DejaVu Sans, Liberation Sans, sans-serif" fill="#2b2b2b">0</text>
<text x="187.8" y="196.9" text-anchor="middle" font-size="8.7" font-family="DejaVu Sans, Liberation Sans, sans-serif" fill="#2b2b2b">5</text>
<text x="237.8" y="196.9" text-anchor="middle" font-size="8.7" font-family="DejaVu Sans, Liberation Sans, sans-serif" fill="#2b2b2b">10</text>
<text x="243.0" y="185.6" font-size="8.6" font-family="DejaVu Sans, Liberation Sans, sans-serif" fill="#2b2b2b">×10<tspan font-size="5.8" dy="-3.6">-3</tspan></text>
<rect x="313.5" y="180.89999999999998" width="143.9" height="8.1" fill="url(#cb)"/>
<path d="M330.6 180.89999999999998v1.6M330.6 188.89999999999998v-1.6M364.2 180.89999999999998v1.6M364.2 188.89999999999998v-1.6M397.3 180.89999999999998v1.6M397.3 188.89999999999998v-1.6M430.8 180.89999999999998v1.6M430.8 188.89999999999998v-1.6" stroke="#222" stroke-width=".6" stroke-opacity=".7"/>
<text x="330.6" y="196.9" text-anchor="middle" font-size="8.7" font-family="DejaVu Sans, Liberation Sans, sans-serif" fill="#2b2b2b">1.1</text>
<text x="364.2" y="196.9" text-anchor="middle" font-size="8.7" font-family="DejaVu Sans, Liberation Sans, sans-serif" fill="#2b2b2b">1.2</text>
<text x="397.3" y="196.9" text-anchor="middle" font-size="8.7" font-family="DejaVu Sans, Liberation Sans, sans-serif" fill="#2b2b2b">1.3</text>
<text x="430.8" y="196.9" text-anchor="middle" font-size="8.7" font-family="DejaVu Sans, Liberation Sans, sans-serif" fill="#2b2b2b">1.4</text>
<text x="458.2" y="185.6" font-size="8.6" font-family="DejaVu Sans, Liberation Sans, sans-serif" fill="#2b2b2b">×10<tspan font-size="5.8" dy="-3.6">-2</tspan></text>
<rect x="98.3" y="352.0" width="143.9" height="8.1" fill="url(#cb)"/>
<path d="M103.1 352.0v1.6M103.1 360.0v-1.6M156.4 352.0v1.6M156.4 360.0v-1.6M209.5 352.0v1.6M209.5 360.0v-1.6" stroke="#222" stroke-width=".6" stroke-opacity=".7"/>
<text x="103.1" y="368.1" text-anchor="middle" font-size="8.7" font-family="DejaVu Sans, Liberation Sans, sans-serif" fill="#2b2b2b">0</text>
<text x="156.4" y="368.1" text-anchor="middle" font-size="8.7" font-family="DejaVu Sans, Liberation Sans, sans-serif" fill="#2b2b2b">5</text>
<text x="209.5" y="368.1" text-anchor="middle" font-size="8.7" font-family="DejaVu Sans, Liberation Sans, sans-serif" fill="#2b2b2b">10</text>
<text x="243.0" y="356.7" font-size="8.6" font-family="DejaVu Sans, Liberation Sans, sans-serif" fill="#2b2b2b">×10<tspan font-size="5.8" dy="-3.6">-3</tspan></text>
<rect x="313.5" y="352.0" width="143.9" height="8.1" fill="url(#cb)"/>
<path d="M345.9 352.0v1.6M345.9 360.0v-1.6M400.3 352.0v1.6M400.3 360.0v-1.6M453.4 352.0v1.6M453.4 360.0v-1.6" stroke="#222" stroke-width=".6" stroke-opacity=".7"/>
<text x="345.9" y="368.1" text-anchor="middle" font-size="8.7" font-family="DejaVu Sans, Liberation Sans, sans-serif" fill="#2b2b2b">1.3</text>
<text x="400.3" y="368.1" text-anchor="middle" font-size="8.7" font-family="DejaVu Sans, Liberation Sans, sans-serif" fill="#2b2b2b">1.4</text>
<text x="453.4" y="368.1" text-anchor="middle" font-size="8.7" font-family="DejaVu Sans, Liberation Sans, sans-serif" fill="#2b2b2b">1.5</text>
<text x="458.2" y="356.7" font-size="8.6" font-family="DejaVu Sans, Liberation Sans, sans-serif" fill="#2b2b2b">×10<tspan font-size="5.8" dy="-3.6">-2</tspan></text>
<rect x="98.3" y="520.3000000000001" width="143.9" height="8.1" fill="url(#cb)"/>
<path d="M104.2 520.3000000000001v1.6M104.2 528.3000000000001v-1.6M136.8 520.3000000000001v1.6M136.8 528.3000000000001v-1.6M168.6 520.3000000000001v1.6M168.6 528.3000000000001v-1.6M201.9 520.3000000000001v1.6M201.9 528.3000000000001v-1.6M234.6 520.3000000000001v1.6M234.6 528.3000000000001v-1.6" stroke="#222" stroke-width=".6" stroke-opacity=".7"/>
<text x="104.2" y="536.3" text-anchor="middle" font-size="8.7" font-family="DejaVu Sans, Liberation Sans, sans-serif" fill="#2b2b2b">0</text>
<text x="136.8" y="536.3" text-anchor="middle" font-size="8.7" font-family="DejaVu Sans, Liberation Sans, sans-serif" fill="#2b2b2b">5</text>
<text x="168.6" y="536.3" text-anchor="middle" font-size="8.7" font-family="DejaVu Sans, Liberation Sans, sans-serif" fill="#2b2b2b">10</text>
<text x="201.9" y="536.3" text-anchor="middle" font-size="8.7" font-family="DejaVu Sans, Liberation Sans, sans-serif" fill="#2b2b2b">15</text>
<text x="234.6" y="536.3" text-anchor="middle" font-size="8.7" font-family="DejaVu Sans, Liberation Sans, sans-serif" fill="#2b2b2b">20</text>
<text x="243.0" y="524.6" font-size="8.6" font-family="DejaVu Sans, Liberation Sans, sans-serif" fill="#2b2b2b">×10<tspan font-size="5.8" dy="-3.6">-3</tspan></text>
<rect x="313.5" y="520.3000000000001" width="143.9" height="8.1" fill="url(#cb)"/>
<path d="M319.7 520.3000000000001v1.6M319.7 528.3000000000001v-1.6M352.4 520.3000000000001v1.6M352.4 528.3000000000001v-1.6M382.9 520.3000000000001v1.6M382.9 528.3000000000001v-1.6M413.4 520.3000000000001v1.6M413.4 528.3000000000001v-1.6M445.2 520.3000000000001v1.6M445.2 528.3000000000001v-1.6" stroke="#222" stroke-width=".6" stroke-opacity=".7"/>
<text x="319.7" y="536.3" text-anchor="middle" font-size="8.7" font-family="DejaVu Sans, Liberation Sans, sans-serif" fill="#2b2b2b">1</text>
<text x="352.4" y="536.3" text-anchor="middle" font-size="8.7" font-family="DejaVu Sans, Liberation Sans, sans-serif" fill="#2b2b2b">1.2</text>
<text x="382.9" y="536.3" text-anchor="middle" font-size="8.7" font-family="DejaVu Sans, Liberation Sans, sans-serif" fill="#2b2b2b">1.4</text>
<text x="413.4" y="536.3" text-anchor="middle" font-size="8.7" font-family="DejaVu Sans, Liberation Sans, sans-serif" fill="#2b2b2b">1.6</text>
<text x="445.2" y="536.3" text-anchor="middle" font-size="8.7" font-family="DejaVu Sans, Liberation Sans, sans-serif" fill="#2b2b2b">1.8</text>
<text x="458.2" y="524.6" font-size="8.6" font-family="DejaVu Sans, Liberation Sans, sans-serif" fill="#2b2b2b">×10<tspan font-size="5.8" dy="-3.6">-2</tspan></text>
<g font-size="7.7" font-family="DejaVu Sans, Liberation Sans, sans-serif" fill="#2b2b2b" stroke="#2b2b2b" stroke-width=".25"><text x="67.1" y="171.79999999999998" text-anchor="middle">z</text><text x="67.1" y="187.5" text-anchor="middle" fill="#111" stroke-width=".45">x</text><text x="82.8" y="186.79999999999998" text-anchor="middle">y</text><path d="M67.1 183.39999999999998V174.6" stroke="#7fa8d0" stroke-width=".8" fill="none"/><path d="M66.0 175.79999999999998L67.1 173.2L68.19999999999999 175.79999999999998Z" fill="#6f9bc8" stroke="none"/><path d="M69.3 185.2H77.3" stroke="#7cc47f" stroke-width=".8" fill="none"/><path d="M76.3 184.1L78.89999999999999 185.2L76.3 186.29999999999998Z" fill="#62b566" stroke="none"/></g>
<g font-size="7.7" font-family="DejaVu Sans, Liberation Sans, sans-serif" fill="#2b2b2b" stroke="#2b2b2b" stroke-width=".25"><text x="282.6" y="171.79999999999998" text-anchor="middle">z</text><text x="282.6" y="187.5" text-anchor="middle" fill="#111" stroke-width=".45">x</text><text x="298.3" y="186.79999999999998" text-anchor="middle">y</text><path d="M282.6 183.39999999999998V174.6" stroke="#7fa8d0" stroke-width=".8" fill="none"/><path d="M281.5 175.79999999999998L282.6 173.2L283.70000000000005 175.79999999999998Z" fill="#6f9bc8" stroke="none"/><path d="M284.8 185.2H292.8" stroke="#7cc47f" stroke-width=".8" fill="none"/><path d="M291.8 184.1L294.40000000000003 185.2L291.8 186.29999999999998Z" fill="#62b566" stroke="none"/></g>
<g font-size="7.7" font-family="DejaVu Sans, Liberation Sans, sans-serif" fill="#2b2b2b" stroke="#2b2b2b" stroke-width=".25"><text x="67.1" y="342.8" text-anchor="middle">z</text><text x="67.1" y="358.5" text-anchor="middle" fill="#111" stroke-width=".45">x</text><text x="82.8" y="357.8" text-anchor="middle">y</text><path d="M67.1 354.4V345.59999999999997" stroke="#7fa8d0" stroke-width=".8" fill="none"/><path d="M66.0 346.8L67.1 344.2L68.19999999999999 346.8Z" fill="#6f9bc8" stroke="none"/><path d="M69.3 356.2H77.3" stroke="#7cc47f" stroke-width=".8" fill="none"/><path d="M76.3 355.09999999999997L78.89999999999999 356.2L76.3 357.3Z" fill="#62b566" stroke="none"/></g>
<g font-size="7.7" font-family="DejaVu Sans, Liberation Sans, sans-serif" fill="#2b2b2b" stroke="#2b2b2b" stroke-width=".25"><text x="282.6" y="342.8" text-anchor="middle">z</text><text x="282.6" y="358.5" text-anchor="middle" fill="#111" stroke-width=".45">x</text><text x="298.3" y="357.8" text-anchor="middle">y</text><path d="M282.6 354.4V345.59999999999997" stroke="#7fa8d0" stroke-width=".8" fill="none"/><path d="M281.5 346.8L282.6 344.2L283.70000000000005 346.8Z" fill="#6f9bc8" stroke="none"/><path d="M284.8 356.2H292.8" stroke="#7cc47f" stroke-width=".8" fill="none"/><path d="M291.8 355.09999999999997L294.40000000000003 356.2L291.8 357.3Z" fill="#62b566" stroke="none"/></g>
<g font-size="7.7" font-family="DejaVu Sans, Liberation Sans, sans-serif" fill="#2b2b2b" stroke="#2b2b2b" stroke-width=".25"><text x="70.6" y="508.6" text-anchor="middle">z</text><text x="70.6" y="524.3" text-anchor="middle" fill="#111" stroke-width=".45">x</text><text x="86.3" y="523.6" text-anchor="middle">y</text><path d="M70.6 520.2V511.4" stroke="#7fa8d0" stroke-width=".8" fill="none"/><path d="M69.5 512.6L70.6 510.0L71.69999999999999 512.6Z" fill="#6f9bc8" stroke="none"/><path d="M72.8 522.0H80.8" stroke="#7cc47f" stroke-width=".8" fill="none"/><path d="M79.8 520.9L82.39999999999999 522.0L79.8 523.1Z" fill="#62b566" stroke="none"/></g>
<g font-size="7.7" font-family="DejaVu Sans, Liberation Sans, sans-serif" fill="#2b2b2b" stroke="#2b2b2b" stroke-width=".25"><text x="285.8" y="508.6" text-anchor="middle">z</text><text x="285.8" y="524.3" text-anchor="middle" fill="#111" stroke-width=".45">x</text><text x="301.5" y="523.6" text-anchor="middle">y</text><path d="M285.8 520.2V511.4" stroke="#7fa8d0" stroke-width=".8" fill="none"/><path d="M284.7 512.6L285.8 510.0L286.90000000000003 512.6Z" fill="#6f9bc8" stroke="none"/><path d="M288.0 522.0H296.0" stroke="#7cc47f" stroke-width=".8" fill="none"/><path d="M295.0 520.9L297.6 522.0L295.0 523.1Z" fill="#62b566" stroke="none"/></g>
</svg>
</body></html>
